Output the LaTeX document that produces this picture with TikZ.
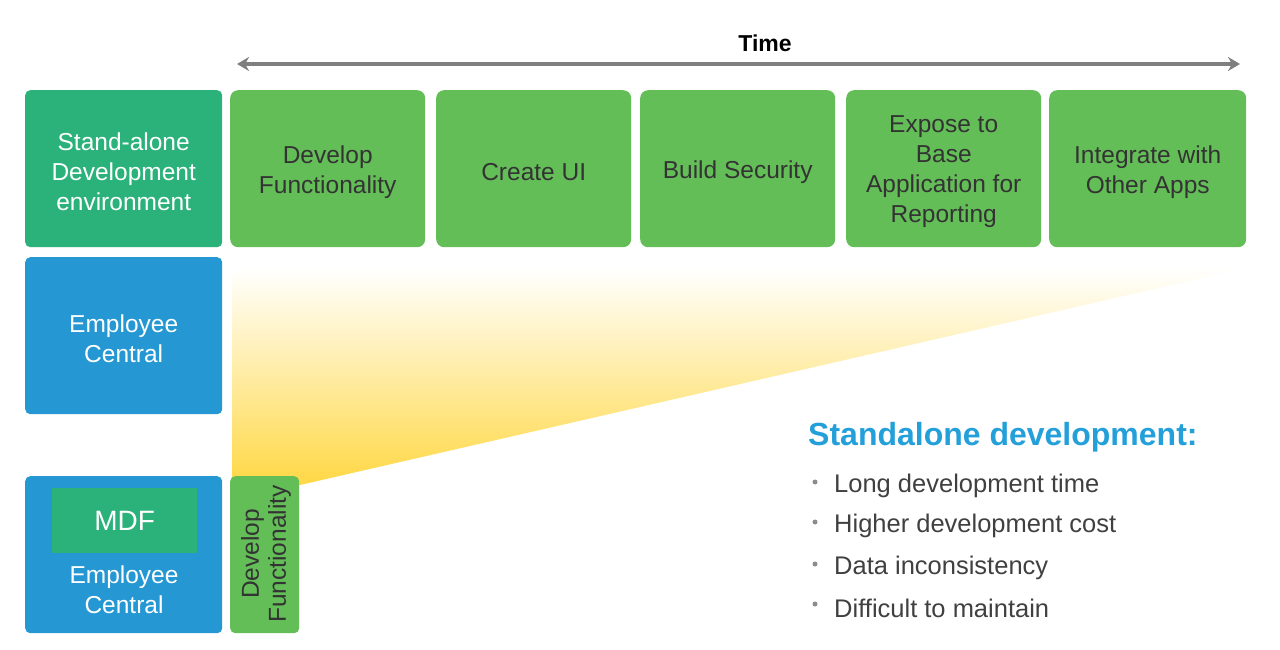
\documentclass[tikz,border=0pt]{standalone}
\usepackage{fontspec}
\setmainfont{Liberation Sans}
\usetikzlibrary{positioning,arrows.meta}
\definecolor{stepgreen}{HTML}{64BE58}
\definecolor{envgreen}{HTML}{2BB27A}
\definecolor{ecblue}{HTML}{2597D2}
\definecolor{titleblue}{HTML}{23A0DA}
\definecolor{timegray}{HTML}{7F7F7F}
\definecolor{fadeyellow}{HTML}{FFD845}
\begin{document}
\begin{tikzpicture}[
		x=1pt, y=-1pt,
		every node/.style={font=\fontsize{24.5}{30}\selectfont, align=center, inner sep=0pt},
		stepbox/.style={fill=stepgreen, rounded corners=8pt, minimum width=195pt, minimum height=157pt, anchor=north west},
		sidebox/.style={rounded corners=5pt, minimum width=197pt, minimum height=157pt, anchor=north west},
		steptext/.style={label={[text=black!80, align=center, yshift=-3pt]center:#1}},
		sidetext/.style={label={[text=white, align=center, yshift=-3pt]center:#1}},
		bullet/.style={anchor=west, text=black!75, font=\fontsize{25.5}{30}\selectfont}
	]
	\useasboundingbox (0,0) rectangle (1280,650);

	% yellow fan
	\shade[top color=white, bottom color=fadeyellow] (232,268) -- (1246,268) -- (300,485) -- (232,485) -- cycle;

	% left column
	\node[sidebox, fill=envgreen, sidetext={Stand-alone\\Development\\environment}] (env) at (25,90) {};
	\node[sidebox, fill=ecblue, sidetext={Employee\\Central}] (ec) at (25,257) {};
	\node[sidebox, fill=ecblue] (mdfec) at (25,476) {};
	\node[fill=envgreen, minimum width=145pt, minimum height=65pt, text=white, font=\fontsize{28}{30}\selectfont, anchor=north west] (mdf) at (52,488) {MDF};
	\node[text=white] (ectext) at (124,590) {Employee\\Central};

	% steps
	\node[stepbox, steptext={Develop\\Functionality}] (s1) at (230,90) {};
	\node[stepbox, steptext={Create UI}] (s2) at (436,90) {};
	\node[stepbox, steptext={Build Security}] (s3) at (640,90) {};
	\node[stepbox, steptext={Expose to\\Base\\Application for\\Reporting}] (s4) at (846,90) {};
	\node[stepbox, minimum width=197pt, steptext={Integrate with\\Other Apps}] (s5) at (1049,90) {};
	\node[stepbox, minimum width=69pt, rounded corners=5pt] (small) at (230,476) {};
	\node[rotate=90, text=black!80, font=\fontsize{24.5}{27}\selectfont] (smalltext) at (266,554) {Develop\\Functionality};

	% time arrow
	\coordinate (tstart) at (237,64);
	\coordinate (tend) at (1240,64);
	\draw[timegray, line width=3.5pt, {Stealth[length=12pt,width=14pt]}-{Stealth[length=12pt,width=14pt]}] (tstart) -- (tend);
	\node[font=\fontsize{23}{26}\selectfont\bfseries] (time) at (765,43) {Time};

	% summary
	\node[anchor=west, text=titleblue, font=\fontsize{32}{34}\selectfont\bfseries] (title) at (808,437) {Standalone development:};
	\foreach \y/\txt in {486/Long development time, 526/Higher development cost, 568/Data inconsistency, 608/Difficult to maintain} {
		\fill[black!45] (815,\y-4) circle (2.5pt);
		\node[bullet] at (834,\y) {\txt};
	}
\end{tikzpicture}
\end{document}
